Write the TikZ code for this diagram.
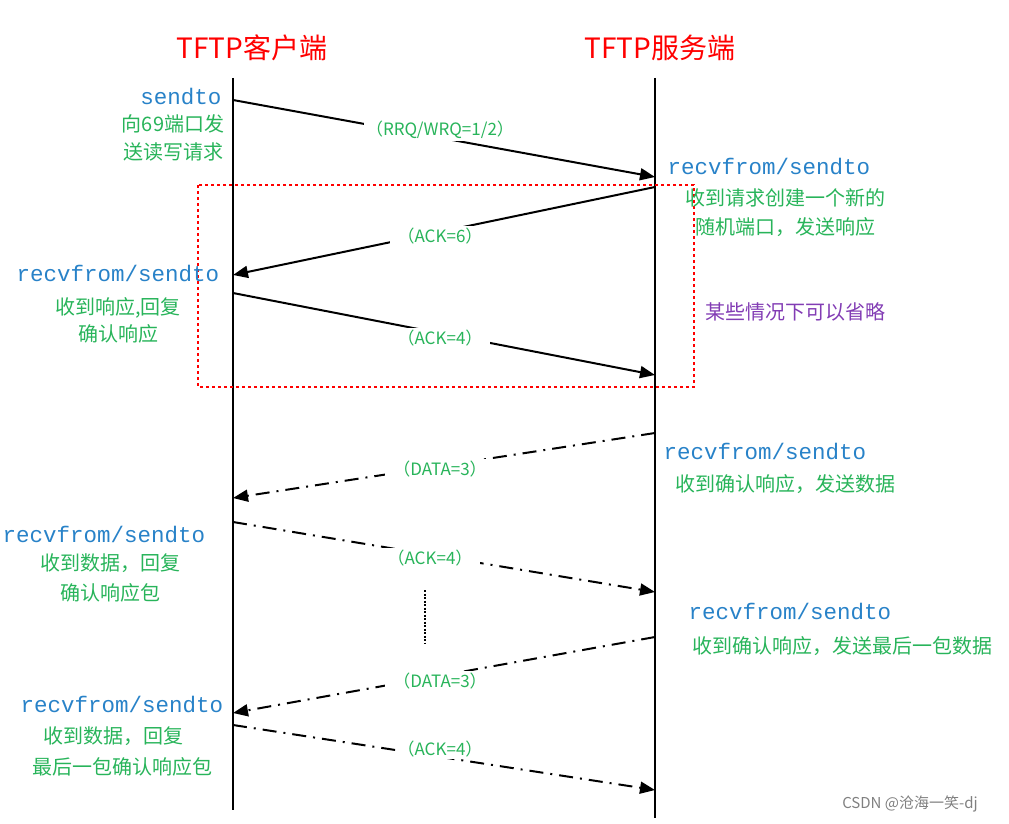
\documentclass[tikz,border=0pt]{standalone}
\usepackage{fontspec}
\setmainfont{Noto Sans CJK SC}
\newfontfamily\monof{Liberation Mono}
\usetikzlibrary{arrows.meta}
\definecolor{cblue}{RGB}{40,130,200}
\definecolor{cgreen}{RGB}{40,180,90}
\definecolor{cpurple}{RGB}{130,60,180}
\begin{document}
\begin{tikzpicture}[x=1pt,y=-1pt,
 life/.style={line width=2pt},
 msg/.style={line width=2pt,-{Triangle[length=15pt,width=12pt]}},
 dd/.style={dash pattern=on 14pt off 7pt on 2pt off 7pt},
 lbl/.style={fill=white,text=cgreen,font=\fontsize{17}{19}\selectfont,inner sep=2pt},
 fn/.style={text=cblue,font=\monof\fontsize{22.5}{24}\selectfont,inner sep=0pt},
 cn/.style={text=cgreen,font=\fontsize{20}{22}\selectfont,inner sep=0pt},
 tt/.style={text=red,font=\fontsize{28}{30}\selectfont,inner sep=0pt}]
\useasboundingbox (0,0) rectangle (1009,824);
\node[tt] (t1) at (252,48) {TFTP客户端};
\node[tt] (t2) at (660,48) {TFTP服务端};
\coordinate (c0) at (233,78); \coordinate (c1) at (233,810);
\coordinate (s0) at (655,78); \coordinate (s1) at (655,818);
\draw[life] (c0)--(c1); \draw[life] (s0)--(s1);
\draw[red,line width=1.6pt,dash pattern=on 3pt off 3pt] (198,185) rectangle (694,387);
\coordinate (a1) at (233,100); \coordinate (b1) at (655,177);
\coordinate (a2) at (655,187); \coordinate (b2) at (233,275);
\coordinate (a3) at (233,293); \coordinate (b3) at (655,375);
\coordinate (a4) at (655,433); \coordinate (b4) at (233,498);
\coordinate (a5) at (233,522); \coordinate (b5) at (655,592);
\coordinate (a6) at (655,637); \coordinate (b6) at (233,713);
\coordinate (a7) at (233,725); \coordinate (b7) at (655,790);
\draw[msg] (a1)--(b1);
\draw[msg] (a2)--(b2);
\draw[msg] (a3)--(b3);
\draw[msg,dd] (a4)--(b4);
\draw[msg,dd] (a5)--(b5);
\draw[msg,dd] (a6)--(b6);
\draw[msg,dd] (a7)--(b7);
\node[lbl,minimum width=150pt] (l1) at (440,130) {（RRQ/WRQ=1/2）};
\node[lbl,minimum width=100pt] (l2) at (440,236) {（ACK=6）};
\node[lbl,minimum width=100pt] (l3) at (440,338) {（ACK=4）};
\node[lbl,minimum width=110pt] (l4) at (440,469) {（DATA=3）};
\node[lbl,minimum width=100pt] (l5) at (430,558) {（ACK=4）};
\node[lbl,minimum width=110pt] (l6) at (440,681) {（DATA=3）};
\node[lbl,minimum width=85pt] (l7) at (440,749) {（ACK=4）};
\coordinate (d0) at (425,590); \coordinate (d1) at (425,643);
\draw[line width=1.5pt,dash pattern=on 2pt off 1.5pt] (d0)--(d1);
% left texts
\node[fn] (f1) at (181,96) {sendto};
\node[cn] (g1) at (173,124) {向69端口发};
\node[cn] (g2) at (173,152) {送读写请求};
\node[fn] (f2) at (118,273) {recvfrom/sendto};
\node[cn] (g3) at (118,308) {收到响应,回复};
\node[cn] (g4) at (118,334) {确认响应};
\node[fn] (f3) at (104,534) {recvfrom/sendto};
\node[cn] (g5) at (110,563) {收到数据，回复};
\node[cn] (g6) at (110,593) {确认响应包};
\node[fn] (f4) at (122,704) {recvfrom/sendto};
\node[cn] (g7) at (113,736) {收到数据，回复};
\node[cn] (g8) at (122,767) {最后一包确认响应包};
% right texts
\node[fn] (f5) at (769,166) {recvfrom/sendto};
\node[cn] (h1) at (785,198) {收到请求创建一个新的};
\node[cn] (h2) at (785,227) {随机端口，发送响应};
\node[cn,text=cpurple] (h3) at (795,312) {某些情况下可以省略};
\node[fn] (f6) at (765,451) {recvfrom/sendto};
\node[cn] (h4) at (785,484) {收到确认响应，发送数据};
\node[fn] (f7) at (790,611) {recvfrom/sendto};
\node[cn] (h5) at (842,646) {收到确认响应，发送最后一包数据};
\node[text=gray,font=\fontsize{15}{17}\selectfont,inner sep=0pt] (w) at (910,804) {CSDN @沧海一笑-dj};
\end{tikzpicture}
\end{document}
